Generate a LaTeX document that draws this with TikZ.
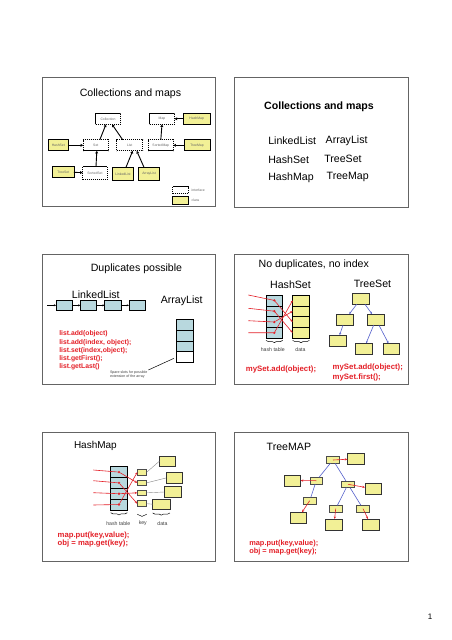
\documentclass[tikz,border=0pt]{standalone}
\usepackage{fontspec}
\setmainfont{Liberation Sans}
\usepackage{xcolor}
\usetikzlibrary{arrows.meta, positioning, decorations.pathreplacing}
\definecolor{framegray}{RGB}{100,100,100}
\definecolor{classyellow}{RGB}{242,240,150}
\definecolor{cellblue}{RGB}{184,216,222}
\definecolor{codered}{RGB}{228,32,40}
\definecolor{treeblue}{RGB}{84,96,204}
\newcommand{\fsz}[2]{\fontsize{#1}{#2}\selectfont}

\begin{document}
\begin{tikzpicture}[
    x=1pt, y=-1pt,
    node distance=8pt,
    every node/.style={inner sep=0pt, outer sep=0pt},
    slide/.style={draw=framegray, line width=0.8pt},
    title/.style={font=\fsz{10.6}{12.7}},
    uml/.style={rectangle, minimum width=25pt, minimum height=11pt, font=\fsz{3.4}{4}, text=black!60},
    iface/.style={uml, draw, dash pattern=on 1.2pt off 0.8pt, line width=0.7pt, fill=white},
    cls/.style={uml, draw, line width=0.9pt, fill=classyellow},
    legend/.style={font=\fsz{3.4}{4}, text=black!60, anchor=west},
    gen/.style={-{Triangle[open, length=2.6pt, width=2.8pt]}, line width=0.9pt},
    cell/.style={rectangle, draw, line width=0.6pt, minimum width=16.7pt, minimum height=10.8pt},
    bluecell/.style={cell, fill=cellblue},
    datacell/.style={cell, fill=classyellow},
    keybox/.style={rectangle, draw=black!70, line width=0.8pt, fill=classyellow, minimum width=12.6pt, minimum height=6.6pt},
    databox/.style={rectangle, draw=black!80, line width=0.8pt, fill=classyellow, minimum width=16.7pt, minimum height=11pt},
    hdot/.style={circle, fill=codered, minimum size=2.6pt},
    ptr/.style={-{Stealth[length=2.6pt, width=2.2pt]}, codered, line width=0.6pt},
    inline/.style={codered, line width=0.6pt},
    lptr/.style={-{Stealth[length=2.2pt, width=2pt]}, line width=0.5pt},
    treeline/.style={treeblue, line width=0.6pt},
    treearrow/.style={treeline, -{Stealth[length=2.2pt, width=2pt]}},
    code/.style={text=codered, font=\bfseries\fsz{6.8}{8.2}, align=left, anchor=north west},
    note/.style={font=\fsz{5.2}{6}, text=black!75},
    brace/.style={decorate, decoration={brace, mirror, amplitude=2.2pt}, line width=0.5pt}
]
    \fill[white] (0,0) rectangle (452,640);
    \useasboundingbox (0,0) rectangle (452,640);

    % slide 1: interfaces and classes
    \draw[slide] (42.7,77.3) rectangle (215.7,206.7);
    \node[title] (title1) at (130.5,94) {Collections and maps};
    \node[iface] (coll) at (108,118.8) {Collection};
    \node[iface] (map) at (162,118.8) {Map};
    \node[cls, minimum width=26.7pt] (hmap) at (196.7,118.8) {HashMap};
    \node[cls, minimum width=20pt] (hset) at (58.3,145.3) {HashSet};
    \node[iface] (set) at (95.8,145.3) {Set};
    \node[iface, minimum width=26pt] (list) at (129.7,145.3) {List};
    \node[iface] (smap) at (160.8,145.3) {SortedMap};
    \node[cls, minimum width=26pt] (tmap) at (197,145.3) {TreeMap};
    \node[cls, minimum width=21.3pt, minimum height=10.7pt] (tset) at (63.3,172) {TreeSet};
    \node[iface, minimum width=24.6pt, minimum height=12.6pt] (sset) at (95,173) {SortedSet};
    \node[cls, minimum width=20.6pt, minimum height=13.4pt] (llist) at (123,174) {LinkedList};
    \node[cls, minimum width=21.7pt, minimum height=13.4pt] (alist) at (149,174) {ArrayList};
    \node[iface, minimum width=15.6pt, minimum height=6.6pt] (keyif) at (180.5,190) {};
    \node[cls, minimum width=15.6pt, minimum height=8pt] (keycl) at (180.5,200) {};
    \node[legend, right=3.4pt of keyif] (lblif) {interface};
    \node[legend, right=3.4pt of keycl] (lblcl) {class};

    \draw[gen] ([xshift=4pt]set.north) -- ([xshift=-2pt]coll.south);
    \draw[gen] ([xshift=-7pt]list.north) -- ([xshift=4pt]coll.south);
    \draw[gen] (hset) -- (set);
    \draw[gen] ([xshift=1pt]sset.north) -- ([xshift=1pt]set.south);
    \draw[gen] (tset) -- (sset);
    \draw[gen] ([xshift=3pt]llist.north) -- ([xshift=3pt]list.south);
    \draw[gen] ([xshift=-5pt]alist.north) -- ([xshift=7pt]list.south);
    \draw[gen] (hmap) -- (map);
    \draw[gen] (smap.north) -- (map.south);
    \draw[gen] (tmap) -- (smap);

    % slide 2: overview
    \draw[slide] (234,77.3) rectangle (408,207);
    \node[title, font=\bfseries\fsz{10.6}{12.7}] (title2) at (319,106.7) {Collections and maps};
    \node[title, anchor=west] (nll) at (268.3,141) {LinkedList};
    \node[title, anchor=west] (nal) at (325.7,141) {ArrayList};
    \node[title, anchor=west] (nhs) at (268.3,159.3) {HashSet};
    \node[title, anchor=west] (nts) at (324.3,159.3) {TreeSet};
    \node[title, anchor=west] (nhm) at (268.3,177.3) {HashMap};
    \node[title, anchor=west] (ntm) at (326.7,177.3) {TreeMap};

    % slide 3: lists
    \draw[slide] (42.7,254) rectangle (215.7,384);
    \node[title] (title3) at (136.5,269) {Duplicates possible};
    \node[title] (lblll) at (95.8,294.3) {LinkedList};
    \node[title] (lblal) at (181.7,301) {ArrayList};
    \node[bluecell, minimum width=16.3pt] (n1) at (64.2,305.3) {};
    \node[bluecell, minimum width=16.3pt, right=of n1] (n2) {};
    \node[bluecell, minimum width=16.3pt, right=of n2] (n3) {};
    \node[bluecell, minimum width=16.3pt, right=of n3] (n4) {};
    \coordinate (nin) at (47.3,305.3);
    \draw[lptr] (nin) -- (n1);
    \draw[lptr] (n1) -- (n2);
    \draw[lptr] (n2) -- (n3);
    \draw[lptr] (n3) -- (n4);
    \node[bluecell] (a1) at (185,324.7) {};
    \node[bluecell, below=0pt of a1] (a2) {};
    \node[bluecell, below=0pt of a2] (a3) {};
    \node[cell, fill=white, below=0pt of a3] (a4) {};
    \node[code] (code3) at (59.3,331) {list.add(object)\\list.add(index, object);\\list.set(index,object);\\list.getFirst();\\list.getLast()};
    \node[font=\fsz{3.6}{4.2}, text=black!75, align=left, anchor=north west] (spare) at (110,370.4) {Spare slots for possible\\extension of the array};
    \draw[line width=0.5pt, shorten <=1pt, shorten >=3pt] (spare.north east) -- (a4.west);

    % slide 4: sets
    \draw[slide] (234,254) rectangle (408,384);
    \node[title] (title4) at (313.8,265) {No duplicates, no index};
    \node[title] (lblhs) at (290.5,284.3) {HashSet};
    \node[title] (lblts) at (372.5,284.3) {TreeSet};
    \node[bluecell] (h1) at (274.3,300.4) {};
    \node[bluecell, below=0pt of h1] (h2) {};
    \node[bluecell, below=0pt of h2] (h3) {};
    \node[bluecell, below=0pt of h3] (h4) {};
    \node[datacell] (d1) at (301,300.4) {};
    \node[datacell, below=0pt of d1] (d2) {};
    \node[datacell, below=0pt of d2] (d3) {};
    \node[datacell, below=0pt of d3] (d4) {};
    \foreach \i/\y in {1/295,2/308.3,3/320.7,4/332.7} {
        \node[hdot] (hd\i) at (h\i.center) {};
        \coordinate (hin\i) at (248.3,\y);
        \draw[inline] (hin\i) -- (hd\i);
    }
    \foreach \i/\j in {1/3,2/4,3/2,4/1}
        \draw[ptr] (hd\i) -- (d\j.west);
    \draw[brace] ([yshift=-2.2pt]h4.south west) -- ([yshift=-2.2pt]h4.south east);
    \draw[brace] ([yshift=-2.2pt]d4.south west) -- ([yshift=-2.2pt]d4.south east);
    \node[note] (lblht) at (272.8,350) {hash table};
    \node[note] (lbldt) at (300.5,350) {data};
    \node[code, font=\bfseries\fsz{7.8}{9.4}, anchor=center] (code4a) at (281,369.3) {mySet.add(object);};
    \node[databox] (s0) at (361,298.8) {};
    \node[databox] (s1) at (345,319.5) {};
    \node[databox] (s2) at (376,319.5) {};
    \node[databox] (s3) at (337.7,340.5) {};
    \node[databox] (s4) at (363.8,348.8) {};
    \node[databox] (s5) at (391.3,348.8) {};
    \draw[treearrow] (s0) -- (s1);
    \draw[treearrow] (s0) -- (s2);
    \draw[treearrow] (s1) -- (s3);
    \draw[treearrow] (s2) -- (s4);
    \draw[treearrow] (s2) -- (s5);
    \node[code, font=\bfseries\fsz{7.8}{9.4}] (code4b) at (332.7,364.3) {mySet.add(object);\\mySet.first();};

    % slide 5: hash map
    \draw[slide] (42.7,432.3) rectangle (215.7,561.7);
    \node[title, anchor=west, font=\fsz{10}{12}] (title5) at (74,446) {HashMap};
    \node[bluecell] (m1) at (119,472.1) {};
    \node[bluecell, below=0pt of m1] (m2) {};
    \node[bluecell, below=0pt of m2] (m3) {};
    \node[bluecell, below=0pt of m3] (m4) {};
    \node[keybox, minimum width=9.4pt, minimum height=5.8pt] (k1) at (142,472.2) {};
    \node[keybox, minimum width=9.4pt, minimum height=5.8pt] (k2) at (142,482.8) {};
    \node[keybox, minimum width=9.4pt, minimum height=5.8pt] (k3) at (142,492.8) {};
    \node[keybox, minimum width=9.4pt, minimum height=5.8pt] (k4) at (142,503.7) {};
    \node[databox, minimum width=16.4pt, minimum height=10.7pt] (v1) at (167.5,461.3) {};
    \node[databox, minimum height=10.7pt] (v2) at (174.3,478) {};
    \node[databox, minimum height=10.7pt] (v3) at (172.7,492) {};
    \node[databox, minimum width=17.3pt, minimum height=10.3pt] (v4) at (161.3,504.2) {};
    \foreach \i/\y in {1/470,2/480.7,3/492.7,4/505} {
        \node[hdot] (md\i) at (m\i.center) {};
        \coordinate (min\i) at (93.3,\y);
        \draw[inline] (min\i) -- (md\i);
        \draw[black!45, line width=0.4pt] (k\i.east) -- (v\i.west);
    }
    \foreach \i/\j in {1/2,2/4,3/3,4/1}
        \draw[ptr] (md\i) -- (k\j.west);
    \draw[brace] ([yshift=-2.8pt]m4.south west) -- ([yshift=-2.8pt]m4.south east);
    \draw[brace] ([yshift=-7.6pt]k4.south west) -- ([yshift=-7.6pt]k4.south east);
    \draw[brace] ([yshift=-3.6pt]v4.south west) -- ([yshift=-3.6pt]v4.south east);
    \node[note] (lblmh) at (118.3,523.3) {hash table};
    \node[note] (lblmk) at (142.8,523.3) {key};
    \node[note] (lblmd) at (162.5,523.3) {data};
    \node[code, font=\bfseries\fsz{7.7}{8.3}] (code5) at (57.7,531.5) {map.put(key,value);\\obj = map.get(key);};

    % slide 6: tree map
    \draw[slide] (234,432) rectangle (408,561.7);
    \node[title, anchor=west] (title6) at (266.7,447.3) {TreeMAP};
    \node[keybox] (r) at (333,460) {};
    \node[keybox] (kl) at (316.3,480.7) {};
    \node[keybox] (kr) at (348,484.3) {};
    \node[keybox] (kll) at (309.7,500.7) {};
    \node[keybox] (krl) at (335.7,508.7) {};
    \node[keybox] (krr) at (363,508.7) {};
    \node[databox] (vr0) at (355.7,458.8) {};
    \node[databox] (vl) at (292.3,480.5) {};
    \node[databox] (vr) at (373.3,488.8) {};
    \node[databox] (vll) at (298.3,517.8) {};
    \node[databox] (vrl) at (334,524.5) {};
    \node[databox] (vrr) at (370.7,524.5) {};
    \draw[treeline] (r) -- (kl);
    \draw[treeline] (r) -- (kr);
    \draw[treeline] (kl) -- (kll);
    \draw[treeline] (kr) -- (krl);
    \draw[treeline] (kr) -- (krr);
    \draw[ptr] (r.center) -- (vr0);
    \draw[ptr] (kl.center) -- (vl);
    \draw[ptr] (kr.center) -- (vr);
    \draw[ptr] (kll.center) -- (vll);
    \draw[ptr] (krl.center) -- (vrl);
    \draw[ptr] (krr.center) -- (vrr);
    \node[code, font=\bfseries\fsz{7.4}{7.8}] (code6) at (249.3,540.3) {map.put(key,value);\\obj = map.get(key);};

    \node[font=\fsz{8}{9}] (pagenum) at (430,616.7) {1};
\end{tikzpicture}
\end{document}
